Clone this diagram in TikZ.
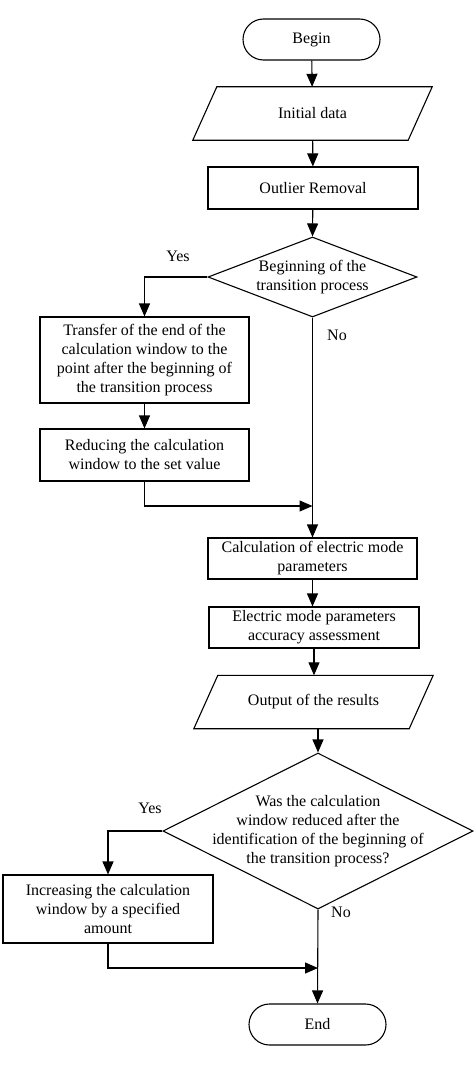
\documentclass[tikz,border=0pt]{standalone}
\usepackage{fontspec}
\setmainfont{Liberation Serif}
\usetikzlibrary{arrows.meta,shapes.geometric}
\begin{document}
\begin{tikzpicture}[x=1pt,y=-1pt,
  every node/.style={font=\fontsize{16}{19}\selectfont, align=center},
  box/.style={draw, line width=1.1pt, rectangle, inner sep=0pt},
  term/.style={draw, line width=1.1pt, rectangle, rounded corners=20.5pt, minimum width=137pt, minimum height=41pt, inner sep=0pt},
  iobox/.style={rectangle, minimum width=239pt, minimum height=53pt, inner sep=0pt},
  dia/.style={draw, line width=1.1pt, diamond, inner sep=0pt},
  lbl/.style={inner sep=0pt},
  arr/.style={line width=1.1pt, -{Triangle[length=13pt,width=11pt]}},
  ln/.style={line width=1.1pt}]
\useasboundingbox (0,0) rectangle (474,1070);

\node[term] (begin) at (311.5,39.5) {Begin};
\node[iobox] (init) at (312.5,113.5) {Initial data};
\draw[ln] ([xshift=24pt]init.north west) -- (init.north east) -- ([xshift=-24pt]init.south east) -- (init.south west) -- cycle;
\node[box, minimum width=210pt, minimum height=42pt] (outl) at (313,188) {Outlier Removal};
\node[dia, minimum width=209pt, minimum height=80pt] (d1) at (312.5,277) {};
\node[lbl] (d1t) at (d1.center) {Beginning of the\\transition process};
\node[box, minimum width=209pt, minimum height=86pt] (trans) at (144.5,360) {Transfer of the end of the\\calculation window to the\\point after the beginning of\\the transition process};
\node[box, minimum width=209pt, minimum height=52pt] (red) at (144.5,455) {Reducing the calculation\\window to the set value};
\coordinate (m1) at (312.5,506);
\node[box, minimum width=209pt, minimum height=41pt] (calc) at (312.5,558.5) {Calculation of electric mode\\parameters};
\node[box, minimum width=210pt, minimum height=41pt] (elec) at (314,627.5) {Electric mode parameters\\accuracy assessment};
\node[iobox] (outp) at (313.5,702) {Output of the results};
\draw[ln] ([xshift=24pt]outp.north west) -- (outp.north east) -- ([xshift=-24pt]outp.south east) -- (outp.south west) -- cycle;
\node[dia, minimum width=310pt, minimum height=156pt] (d2) at (318,831) {};
\node[lbl] (d2t) at (d2.center) {Was the calculation\\window reduced after the\\identification of the beginning of\\the transition process?};
\node[box, minimum width=210pt, minimum height=68pt] (inc) at (108,909) {Increasing the calculation\\window by a specified\\amount};
\coordinate (m2) at (318,968);
\node[term] (end) at (317.5,1024.5) {End};

\node[lbl] (y1) at (178,256) {Yes};
\node[lbl] (n1) at (337,335) {No};
\node[lbl] (y2) at (150,808) {Yes};
\node[lbl] (n2) at (341,912) {No};

\draw[arr] (begin) -- (init);
\draw[arr] (init) -- (outl);
\draw[arr] (outl) -- (d1.north);
\draw[arr] (d1.west) -| (trans.north);
\draw[arr] (trans) -- (red);
\draw[arr] (red.south) |- (m1);
\draw[arr] (d1.south) -- (calc.north);
\draw[arr] (calc.south) -- (calc.south |- elec.north);
\draw[arr] (elec.south) -- (elec.south |- outp.north);
\draw[arr] (d2.north |- outp.south) -- (d2.north);
\draw[arr] (d2.west) -| (inc.north);
\draw[arr] (inc.south) |- (m2);
\draw[arr] (d2.south) -- (end.north);
\end{tikzpicture}
\end{document}
